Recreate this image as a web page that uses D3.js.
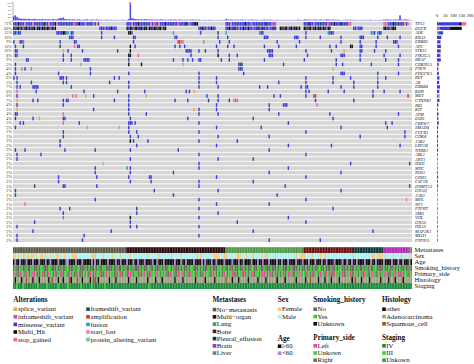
<!DOCTYPE html>
<html><head><meta charset="utf-8">
<script src="https://cdn.jsdelivr.net/npm/d3@7"></script>
<style>body{margin:0;background:#fff}svg{display:block}text{font-family:"Liberation Serif","Times New Roman",serif;fill:#111}</style>
</head><body><svg id="c" width="474" height="364"></svg>
<script>
const N_SAMPLES = 250;
const genes = ["TP53","EGFR","ALK","KRAS","ERBB2","APC","STK11","PIK3CA","BRAF","CDKN2A","PTEN","PDGFRA","RET","AR","ERBB4","KDR","MET","CTNNB1","RB1","KIT","ATM","ESR1","FBXW7","SMAD4","FGFR1","CDK4","JAK2","LRP1B","NTRK1","ABL1","AKT1","IDH1","MYC","ROS1","CDH1","CSF1R","DNMT3A","GNAQ","JAK3","MPL","NF1","PTPRT","SMO","VHL","GNAS","HRAS","MAP2K1","MLH1","PTPN11"];
// alteration codes
const altCodes = ["S","I","M","H","G","F","A","U","L","P"];
const altLabels = ["splice_variant","inframeshift_variant","missense_variant","Multi_Hit","stop_gained","frameshift_variant","amplification","fusion","start_lost","protein_altering_variant"];
const altColors = ["#f4a040","#a060c8","#3a3ae0","#111111","#f0609c","#1d4e6b","#e0302a","#2aa0c0","#f07ab8","#6cc0a8"];
const stackOrder = ["F","U","I","M","H","S","G","A","L","P"];
// per-gene alterations: "sample:type" or "from-to:type" (later tokens override)
const geneAlterations = [
"0-53:M 71-115:M 133-164:M 182-211:M 232-247:M 3:H 7:G 12:G 15:F 19:H 22:G 26:H 27:G 33:F 38:G 41:H 45:G 48:F 50:G 52:S 74:G 78:H 82:F 86:G 88:G 91:G 95:H 99:F 103:G 108:H 110:G 113:H 114:H 115:H 136:G 140:F 145:H 149:G 153:F 158:H 162:G 164:G 185:H 188:G 192:F 197:G 201:H 205:H 208:F 210:G 211:G 232:G 233:G 234:G 238:H 241:F 245:S 247:G",
"0-26:H 1:M 4:M 6:I 9:M 11:M 14:I 17:M 20:M 23:I 25:M 54-64:M 57:I 61:H 71-95:H 72:M 75:I 78:M 81:M 84:I 87:M 90:M 93:I 116-126:M 118:H 121:I 124:H 133-164:M 135:H 138:H 141:I 144:H 147:H 150:I 153:H 156:H 160:I 163:H 167-179:H 169:M 172:I 175:M 178:M 182-198:H 184:M 187:I 190:M 193:M 196:I 213-218:M 215:I 232-239:H 234:M 236:I",
"0-4:M 2:U 27-30:M 31:H 32:H 33:U 34:U 36:M 37:M 55:M 72:H 73:H 74:M 100:U 117:M 128:F 133:U 154:U 155:M 156:M 183:M 197:U 198:M 199:M 200:M 224:U 225:U 226:M 228:U 229:M 230:M",
"35:M 36:M 37:M 55:M 63:M 75:M 76:M 101:M 102:M 128:M 134:M 157:M 158:M 159:M 176:M 177:M 178:M 183:M 192:M 205:M 217:M 218:M 219:M 228:M 234:M 242:M",
"0:M 4:M 5:M 6:I 29:M 38:M 39:M 75:M 103:A 104:A 105:G 106:G 119:G 129:M 135:M 165:M 179:M 205:M 217:M 227:M 238:M 239:M 240:M",
"1:M 6:F 29:F 38:G 40:M 41:M 73:H 76:M 101:M 104:M 107:M 127:M 134:M 138:M 157:M 166:M 177:M 198:M 202:M 211:H 212:H 217:M 218:M 227:M 241:M",
"1:M 2:M 31:S 34:M 43:M 65:M 73:H 108:M 109:M 110:M 111:M 116:M 120:M 128:M 159:M 160:M 161:M 162:M 183:M 199:M 207:S 217:M 218:M 226:M 233:M",
"1:M 2:M 31:M 36:M 72:H 73:H 78:G 111:M 128:H 135:M 140:M 160:M 161:M 162:M 184:M 205:M 206:M 207:M 217:M 232:M 242:M",
"8:M 9:M 31:M 36:M 44:M 45:M 46:M 47:M 72:M 100:M 106:M 109:M 112:M 116:M 117:M 130:M 135:M 157:M 182:M 202:M 217:M 233:M 241:M",
"1:M 42:P 72:H 80:H 106:S 141:F 142:F 143:F 169:M 202:M 206:M 224:M 241:M",
"1:M 5:G 7:M 11:G 48:M 141:M 142:M 143:M 200:S 249:S",
"1:M 28:M 48:M 72:M 116:M 144:M 205:M 206:M 207:M 228:M 241:M",
"0:M 2:M 29:M 30:M 31:M 33:M 63:M 66:M 116:M 127:M 183:M 200:M 211:M 228:U 233:M",
"2:M 11:M 31:M 33:M 60:M 72:M 116:M 127:M 166:M 183:M 200:M 213:M 228:M",
"2:M 4:M 12:M 13:M 14:M 15:M 36:M 72:M 116:M 128:M 154:M 159:M 180:M 183:M 184:M 205:M 213:M 228:M",
"2:G 14:M 44:M 65:M 82:M 108:M 110:M 113:S 183:M 185:M 197:M 207:M 225:M 232:M 242:M",
"2:M 37:G 39:G 45:S 50:M 72:M 83:S 121:M 128:M 163:M 167:M 183:M 188:A 189:A 225:F 247:A",
"2:S 12:M 15:M 31:M 33:M 34:M 63:M 72:M 101:M 109:M 122:F 128:M 135:M 138:G 139:G 140:G 189:M 213:M",
"2:M 31:M 72:M 127:M 160:M 169:M 170:M 171:M 190:G",
"2:S 50:M 72:M 113:S 116:M 127:M 160:M",
"1:M 2:M 31:G 72:M 83:M 116:M 128:M 166:M 198:M 241:M",
"1:F 12:M 16:S 31:M 32:M 73:M 109:M 150:M 200:M",
"4:M 6:M 31:G 41:M 72:M 73:M 74:M 76:M 116:M 172:M 233:M 237:M",
"1:M 46:S 66:S 72:M 127:M 155:M 205:M 234:M",
"31:M 72:M 77:M 116:M 183:M 245:M",
"31:M 73:M 78:M 128:M 160:M 217:M 245:M",
"29:F 73:H 75:M 84:M 116:M 140:M",
"29:M 77:M 127:M 172:M 199:M 242:M",
"1:M 7:M 32:M 51:M 73:M 103:M 160:M",
"2:M 17:M 116:M 183:M",
"2:M 73:M 128:M 150:M",
"56:S 116:M 211:M 248:M",
"51:M 71:U 73:M 116:M 172:M",
"51:M 73:M 100:M 160:M 205:M",
"28:M 52:M 72:M 85:M 86:M 127:M 183:M",
"28:M 73:M 86:M 116:M 150:M",
"13:F 31:M 32:M 52:M 116:M 170:M 248:M",
"1:M 88:M 128:M 205:M",
"1:M 100:M 165:M",
"51:M 116:M 183:M 246:L",
"7:G 127:M 160:M",
"29:M 35:F 77:F 116:M 200:M",
"31:M 77:M 128:M",
"31:I 73:H 116:M 172:M",
"13:M 73:M 140:M 183:M",
"2:M 73:M 77:M 116:M",
"12:M 61:M 150:M 225:M",
"2:M 44:M 116:M",
"2:M 43:M 160:M 192:M"
];
// per-sample total alterations (top bar)
const sampleTMB = [
22,28,18,12,10,9,8,10,7,9, 8,6,7,9,6,5,7,6,8,5, 6,5,7,4,6,8,5,6,9,14, 12,16,8,6,5,7,4,6,5,4,
5,6,4,3,5,4,6,3,4,5, 4,3,5,4,3,4,2,3,4,3, 3,4,3,2,3,2,3,2,4,3, 2,3,8,100,12,10,8,6,7,5,
6,5,7,6,5,4,6,5,4,5, 5,4,6,5,4,5,3,4,5,4, 4,5,3,4,5,4,3,4,3,4, 3,4,5,3,4,3,4,3,2,3,
3,2,3,4,2,3,2,3,2,3, 2,3,3,8,5,4,5,4,3,4, 4,3,4,5,3,4,3,4,3,5, 4,3,4,3,2,4,3,5,3,4,
3,4,3,2,3,4,2,3,2,3, 2,3,2,3,2,3,2,2,4,3, 3,2,5,6,4,5,4,3,4,5, 4,3,5,4,3,4,6,5,4,3,
5,4,3,4,3,2,3,2,4,3, 3,4,3,3,2,3,2,3,2,3, 2,3,2,4,3,2,3,2,2,3, 2,3,5,4,6,4,5,3,4,5,
4,6,28,5,4,6,5,4,3,2];
const tmbTicks = [0,20,40,60,80,100];
const countTicks = [0,50,100,150,200];

// clinical annotations
const metastasisRuns = [["No\u2212metastasis",71],["Multi\u2212organ",62],["Lung",49],["Bone",31],["Pleural_effusion",19],["Brain",16],["Liver",2]];
const metastasisColors = ["#5e5a48","#2a0d0d","#4e9a44","#6b1111","#0c3b36","#b02ab0","#7a7a7a"];
const sexCodes = "FFMFMMFFMF MFFMFMMFFM FMMFMMMFFM MMFMMMMFFF MMMMMMMMMF FFMMMMFMMM MMFMMMMFMM MMMFMMMMMM MMMMFMMMMM MFMMMMMMMF MMMMMFMMMM MMMMMFMFMM MMMMMMFFFM MMFFMMMMMM FFFMMMFMMM FMMMMMFMFF MMMMFMMMMM MMMMMMMFMM FFFMMMMFMM MMFMMFMMMM MMMMMMMMMM MMMFMMMMMM MMMMMFFMFF FFMFMMMMFM MMMFMMMMFF";
const sexKeys = ["F","M"], sexLabels = ["Female","Male"], sexColors = ["#f8c880","#b0f0f4"];
const ageCodes = "OYOOYOOOYO OOYOOOYOOO YOOYOOOOYO OOOYYOOOOY OOOYOOOOOY OYOOYOOOOY OOOOYOOYOO OYOOOYOOYO OOYOOOOYOO YOOOYOOOOO OYOOOYOOYO OOOYOOOOYO YOOOYOOYOO OOYOOOOYOO OYOOYOOOOY OOOYOOYOOO YOOOOYOOYO OOYOOOOYOO OYOOOYOOOY OOOYOOYOOO OYOOOOYOOY OOYOOYOOOO YOOOYOOYOO OOYOOOOYOO OYOOYOOOYO";
const ageKeys = ["O","Y"], ageLabels = ["\u226560","<60"], ageColors = ["#111111","#b088d8"];
const smokingCodes = "NYNNYYNNYN NYYNNYNYYN NNYYNNNYNN YNNYYNNNYN YYNNNYNYNN NYNYNNYYNN NNYNNYNNYN YNNYNYNNNY NYNNYYNNYN NNYNYNNYYN YNNNYNYNNY NYYNNNYNYN NNYNYNNNYY YNYNNYNNYN NYNNYNYNNY YNNYYNNYNN NYNNNYNYYN NNYNYNNNYN YNNYNNYNYN NYYNNYNNNY NNYNYYNNYN YNNNYNYNNY NYNYNNYYNN NNYNNYNNYN YNYNNYNNYN";
const smokingKeys = ["N","Y","U"], smokingLabels = ["No","Yes","Unknown"], smokingColors = ["#6a6a5c","#30d030","#111111"];
const sideCodes = "LURRLUURLU RULLURRULR URLUURLRUL LRUURLLURR ULRRULURLU RLUULRRULU LUURRLULRU URLLURUURL RULURRLUUL LURULURRLU URRLUULRUL RLUURLURRU LUURLLURUR URLURUULRL RUULRLURUL LRUURULLUR ULRULRURUL RULLURRULU LUURLURLRU URLUURLULR RLUURULRLU ULRLUURULR LURRULURLU RULULRRULL ULRLLUURLU";
const sideKeys = ["L","U","R"], sideLabels = ["Left","Unkown","Right"], sideColors = ["#f04898","#44cc44","#5f7f4f"];
const histologyCodes = "AOAAAOAASA AAOAAAOAAA AAOASAAAOA AOAAASOAAA SAAOAAAAOA SSAOAAAAAA OAAAOAAAAA AAOAAAAOAA AAAAOAAAAO AAAOAAAAAA AOAAAAOAAA AAAAOAAAAA OAAAAAOAAA AAASAAAOAA AOAAAAAOAA AAAOAAAAOA AAAAAOAAAA OAAAAAAOAA AAAOAASAAA AOAAAOAAAO AAAAOAAAAA AAOASAAAOA AAAOAAAAAA OAAAAOAAAO AAAAOAAAAA";
const histologyKeys = ["O","A","S"], histologyLabels = ["other","Adenocarcinoma","Squamous_cell"], histologyColors = ["#111111","#9aa383","#a0502a"];
const stagingCodes = "4434443444 4444434444 4344444434 4444344444 4434444443 4444444344 4444444444 4444444444 4444434444 4444444444 4444444444 4444444444 4444444444 4444444444 4444444444 4444444444 4444444444 4444444444 4444444444 4444444444 4444444444 4444444444 4444444444 4444444444 4444444444";
const stagingKeys = ["4","3","U"], stagingLabels = ["IV","III","Unkown"], stagingColors = ["#1a8c3c","#3ccc3c","#2aa850"];

// ---------- build ----------
const svg = d3.select("#c");
const samples = d3.range(N_SAMPLES);
const x = d3.scaleBand().domain(samples).range([13, 412]).paddingInner(0);
const y = d3.scaleBand().domain(genes).range([21.6, 242.4]).paddingInner(0.2).paddingOuter(0.1);
const colorOf = new Map(altCodes.map((c,i)=>[c, altColors[i]]));

const matrix = geneAlterations.map(str => {
  const m = new Map();
  str.trim().split(/\s+/).forEach(tok => {
    const [pos, t] = tok.split(":");
    if (pos.includes("-")) { const [a,b] = pos.split("-").map(Number); for (let i=a;i<=b;i++) m.set(i,t); }
    else m.set(+pos, t);
  });
  return m;
});

// top bar chart
const yT = d3.scaleLinear().domain([0,100]).range([20.4, 2.2]);
svg.append("g").selectAll("rect").data(sampleTMB).join("rect")
  .attr("x",(d,i)=>x(i)).attr("width",x.bandwidth()).attr("y",d=>yT(d)).attr("height",d=>yT(0)-yT(d))
  .attr("fill","#5252e0");
svg.append("rect").attr("x",x(73)).attr("width",x.bandwidth()).attr("y",yT(100)).attr("height",yT(88)-yT(100)).attr("fill","#f07ab8");
const axT = svg.append("g").attr("transform","translate(12.6,0)").call(d3.axisLeft(yT).tickValues(tmbTicks).tickSize(1).tickPadding(0.8));
axT.selectAll("text").style("font-size","2.9px").style("font-family","Liberation Serif").style("fill","#444");
axT.selectAll("path,line").attr("stroke","#555").attr("stroke-width",0.4);

// grid background
svg.append("g").selectAll("rect").data(genes).join("rect")
  .attr("x",13).attr("width",399).attr("y",g=>y(g)).attr("height",y.bandwidth()).attr("fill","#d6d6d6");

// mutation cells
const cells = [];
matrix.forEach((m,gi)=>m.forEach((t,s)=>cells.push({g:genes[gi],s,t})));
svg.append("g").selectAll("rect").data(cells).join("rect")
  .attr("x",d=>x(d.s)+0.15).attr("width",x.bandwidth()-0.2).attr("y",d=>y(d.g)).attr("height",y.bandwidth())
  .attr("fill",d=>colorOf.get(d.t));

// percentages
svg.append("g").selectAll("text").data(genes).join("text")
  .attr("x",11.8).attr("y",g=>y(g)+y.bandwidth()/2).attr("dy","0.35em").attr("text-anchor","end")
  .style("font-size","4.1px").style("fill","#333")
  .text((g,i)=>Math.round(matrix[i].size/N_SAMPLES*100)+"%");

// gene labels
svg.append("g").selectAll("text").data(genes).join("text")
  .attr("x",415).attr("y",g=>y(g)+y.bandwidth()/2).attr("dy","0.35em")
  .style("font-size","4.4px").style("font-style","italic").text(g=>g);

// right bar chart
const xR = d3.scaleLinear().domain([0,200]).range([437,470]);
const stackData = genes.map((g,i)=>{ const o={gene:g}; stackOrder.forEach(c=>o[c]=0); matrix[i].forEach(t=>o[t]++); return o; });
const series = d3.stack().keys(stackOrder)(stackData);
svg.append("g").selectAll("g").data(series).join("g").attr("fill",s=>colorOf.get(s.key))
  .selectAll("rect").data(s=>s).join("rect")
  .attr("x",d=>xR(d[0])).attr("width",d=>xR(d[1])-xR(d[0]))
  .attr("y",d=>y(d.data.gene)+0.2).attr("height",y.bandwidth()-0.4);
svg.append("g").selectAll("text").data(countTicks).join("text")
  .attr("x",d=>xR(d)).attr("y",16.5).attr("text-anchor","middle").style("font-size","4.4px").text(d=>d);

// annotation tracks
const expand = s => s.replace(/\s+/g,"").split("");
const metaSeq = []; metastasisRuns.forEach(([k,n])=>{ for(let i=0;i<n;i++) metaSeq.push(k); });
const metaColor = new Map(metastasisRuns.map((r,i)=>[r[0],metastasisColors[i]]));
const tracks = [
  {name:"Metastases", vals:metaSeq, col:v=>metaColor.get(v)},
  {name:"Sex", vals:expand(sexCodes), col:v=>sexColors[sexKeys.indexOf(v)]},
  {name:"Age", vals:expand(ageCodes), col:v=>ageColors[ageKeys.indexOf(v)]},
  {name:"Smoking_history", vals:expand(smokingCodes), col:v=>smokingColors[smokingKeys.indexOf(v)]},
  {name:"Primary_side", vals:expand(sideCodes), col:v=>sideColors[sideKeys.indexOf(v)]},
  {name:"Histology", vals:expand(histologyCodes), col:v=>histologyColors[histologyKeys.indexOf(v)]},
  {name:"Staging", vals:expand(stagingCodes), col:v=>stagingColors[stagingKeys.indexOf(v)]}
];
const yA = d3.scaleBand().domain(tracks.map(t=>t.name)).range([247.2, 289]).paddingInner(0);
tracks.forEach(t=>{
  svg.append("g").selectAll("rect").data(t.vals).join("rect")
    .attr("x",(d,i)=>x(i)).attr("width",x.bandwidth()+0.05).attr("y",yA(t.name)).attr("height",yA.bandwidth())
    .attr("fill",d=>t.col(d));
});
svg.append("g").selectAll("text").data(tracks).join("text")
  .attr("x",414.5).attr("y",t=>yA(t.name)+yA.bandwidth()/2).attr("dy","0.3em")
  .style("font-size","6.6px").text(t=>t.name);

// legends
function legend(title, tx, ty, items, cols, startY, step, sqX, txX){
  if (title) svg.append("text").attr("x",tx).attr("y",ty).style("font-size","7.2px").style("font-weight","bold").text(title);
  items.forEach((lab,i)=>{
    const yy = startY + step*i;
    svg.append("rect").attr("x",sqX).attr("y",yy-1.8).attr("width",3.6).attr("height",3.6).attr("fill",cols[i]);
    svg.append("text").attr("x",txX).attr("y",yy).attr("dy","0.33em").style("font-size","6.8px").text(lab);
  });
}
legend("Alterations",13.3,301.8,altLabels.slice(0,5),altColors.slice(0,5),309.2,7.6,13.5,18);
legend("",86,301.8,altLabels.slice(5),altColors.slice(5),309.2,7.6,86.2,90.6);
legend("Metastases",212.5,301.8,metastasisRuns.map(r=>r[0]),metastasisColors,309.6,7.25,212.7,216.8);
legend("Sex",277.7,301.8,sexLabels,sexColors,309.2,7.3,277.8,282);
legend("Age",277.7,340.6,ageLabels,ageColors,346.2,7.0,277.8,282);
legend("Smoking_history",313.3,301.8,smokingLabels,smokingColors,309.2,7.3,313.4,317.6);
legend("Primary_side",313.3,340.0,sideLabels,sideColors,345.8,7.2,313.4,317.6);
legend("Histology",382,301.8,histologyLabels,histologyColors,309.2,7.3,382.2,386.2);
legend("Staging",382,340.4,stagingLabels,stagingColors,345.8,7.2,382.2,386.2);
</script></body></html>
